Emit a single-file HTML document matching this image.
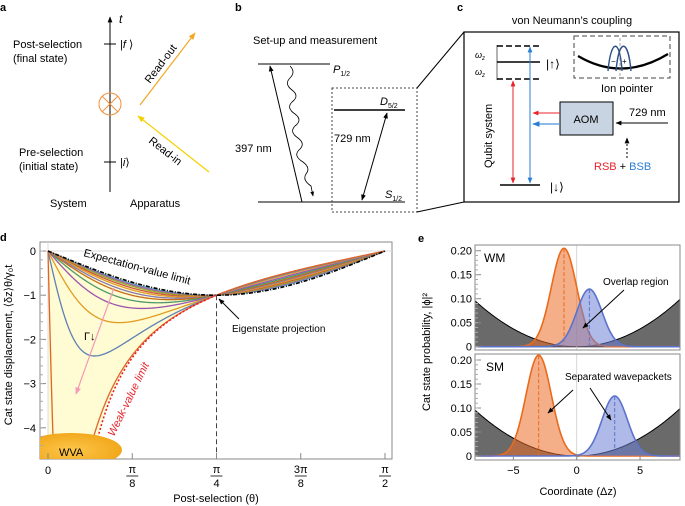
<!DOCTYPE html>
<html><head><meta charset="utf-8"><style>
body{margin:0;background:#fff}
svg{display:block;font-family:"Liberation Sans",sans-serif}
text{font-family:"Liberation Sans","DejaVu Sans",sans-serif}
</style></head><body>
<svg id="fig" width="685" height="506" viewBox="0 0 685 506" xmlns="http://www.w3.org/2000/svg">
<defs>
<marker id="ah" viewBox="0 0 10 10" refX="9" refY="5" markerWidth="6" markerHeight="6" orient="auto-start-reverse"><path d="M0,1 L10,5 L0,9 z" fill="context-stroke"/></marker>
<marker id="ahk" viewBox="0 0 10 10" refX="9" refY="5" markerWidth="6" markerHeight="6" orient="auto-start-reverse"><path d="M0,1 L10,5 L0,9 z" fill="#000"/></marker>
<marker id="ahr" viewBox="0 0 10 10" refX="9" refY="5" markerWidth="6" markerHeight="6" orient="auto-start-reverse"><path d="M0,1 L10,5 L0,9 z" fill="#e8232a"/></marker>
<marker id="ahb" viewBox="0 0 10 10" refX="9" refY="5" markerWidth="6" markerHeight="6" orient="auto-start-reverse"><path d="M0,1 L10,5 L0,9 z" fill="#2a7fd0"/></marker>
<marker id="aho" viewBox="0 0 10 10" refX="9" refY="5" markerWidth="6" markerHeight="6" orient="auto"><path d="M0,1 L10,5 L0,9 z" fill="#f5a623"/></marker>
<marker id="ahy" viewBox="0 0 10 10" refX="9" refY="5" markerWidth="6" markerHeight="6" orient="auto"><path d="M0,1 L10,5 L0,9 z" fill="#f5d000"/></marker>
<marker id="ahp" viewBox="0 0 10 10" refX="9" refY="5" markerWidth="6" markerHeight="6" orient="auto"><path d="M0,1 L10,5 L0,9 z" fill="#f59ab8"/></marker>
<clipPath id="clipd"><rect x="40" y="242" width="352" height="217"/></clipPath>
<clipPath id="clipe1"><rect x="475" y="245" width="205" height="105"/></clipPath>
<clipPath id="clipe2"><rect x="475" y="354" width="205" height="106"/></clipPath>
<radialGradient id="wvag"><stop offset="0" stop-color="#fcc64a"/><stop offset="1" stop-color="#f2a81c"/></radialGradient>
</defs>

<!-- Panel a -->
<g>
<text x="0" y="11" font-size="11" font-weight="bold">a</text>
<line x1="110" y1="192" x2="110" y2="17" stroke="#000" stroke-width="1" marker-end="url(#ahk)"/>
<text x="119" y="23" font-size="12" font-style="italic">t</text>
<line x1="104" y1="44" x2="116" y2="44" stroke="#000"/>
<line x1="104" y1="162" x2="116" y2="162" stroke="#000"/>
<text x="120" y="48" font-size="11">|<tspan font-style="italic">f</tspan> ⟩</text>
<text x="120" y="166" font-size="11">|<tspan font-style="italic">i</tspan>⟩</text>
<text x="13" y="48" font-size="11">Post-selection</text>
<text x="13" y="62" font-size="11">(final state)</text>
<text x="19" y="156" font-size="11">Pre-selection</text>
<text x="19" y="170" font-size="11">(initial state)</text>
<text x="50" y="207" font-size="11">System</text>
<text x="130" y="207" font-size="11">Apparatus</text>
<g stroke="#f0913a" fill="none" stroke-width="1">
<circle cx="110" cy="104" r="11"/><line x1="102" y1="96" x2="118" y2="112"/><line x1="118" y1="96" x2="102" y2="112"/></g>
<line x1="140" y1="105" x2="195" y2="33" stroke="#f5a623" stroke-width="1.2" marker-end="url(#aho)"/>
<line x1="209" y1="172" x2="138" y2="116" stroke="#f5d000" stroke-width="1.2" marker-end="url(#ahy)"/>
<text transform="translate(150,84) rotate(-53)" font-size="11">Read-out</text>
<text transform="translate(148,142) rotate(38)" font-size="11">Read-in</text>
</g>

<!-- Panel b -->
<g>
<text x="235" y="11" font-size="11" font-weight="bold">b</text>
<text x="253" y="44" font-size="11">Set-up and measurement</text>
<line x1="258" y1="64" x2="330" y2="64" stroke="#000"/>
<text x="333" y="73" font-size="11" font-style="italic">P<tspan font-size="7" dy="3" font-style="normal">1/2</tspan></text>
<line x1="258" y1="202" x2="405" y2="202" stroke="#000"/>
<text x="385" y="198" font-size="11" font-style="italic">S<tspan font-size="7" dy="3" font-style="normal">1/2</tspan></text>
<line x1="334" y1="110" x2="405" y2="110" stroke="#000" stroke-width="1.6"/>
<text x="380" y="105" font-size="11" font-style="italic">D<tspan font-size="7" dy="3" font-style="normal">5/2</tspan></text>
<rect x="332" y="88" width="85" height="124" fill="none" stroke="#444" stroke-dasharray="2,2"/>
<line x1="302" y1="202" x2="270" y2="66" stroke="#000" marker-end="url(#ahk)"/>
<text x="235" y="152" font-size="11">397 nm</text>
<path d="M290,66 q6,6 0,12 q-6,6 2,12 q8,6 0,12 q-6,6 3,12 q8,6 0,12 q-6,6 3,12 q8,6 1,12 q-6,6 4,12 q8,6 3,12 q-4,6 5,12 l2,10" fill="none" stroke="#000" stroke-width="0.8" marker-end="url(#ahk)"/>
<line x1="362" y1="200" x2="387" y2="113" stroke="#000" marker-start="url(#ahk)" marker-end="url(#ahk)"/>
<text x="334" y="142" font-size="11">729 nm</text>
<line x1="417" y1="88" x2="464" y2="32" stroke="#000"/>
<line x1="417" y1="212" x2="464" y2="202" stroke="#000"/>
</g>

<!-- Panel c -->
<g>
<text x="457" y="11" font-size="11" font-weight="bold">c</text>
<text x="572" y="24" font-size="11" text-anchor="middle">von Neumann’s coupling</text>
<rect x="464" y="32" width="215" height="170" fill="none" stroke="#000" stroke-width="1.2"/>
<line x1="497" y1="46" x2="540" y2="46" stroke="#000" stroke-width="1.4" stroke-dasharray="6,3"/>
<line x1="497" y1="62" x2="540" y2="62" stroke="#000" stroke-width="1.6"/>
<line x1="497" y1="79" x2="540" y2="79" stroke="#000" stroke-width="1.4" stroke-dasharray="6,3"/>
<line x1="497" y1="45" x2="497" y2="80" stroke="#000" stroke-width="0.6"/>
<text x="475" y="58" font-size="9" font-style="italic" font-family="Liberation Serif">ω<tspan font-size="6" dy="2">z</tspan></text>
<text x="475" y="75" font-size="9" font-style="italic" font-family="Liberation Serif">ω<tspan font-size="6" dy="2">z</tspan></text>
<text x="546" y="68" font-size="12">|↑⟩</text>
<line x1="500" y1="185" x2="540" y2="185" stroke="#000" stroke-width="1.6"/>
<text x="550" y="191" font-size="12">|↓⟩</text>
<line x1="513" y1="81" x2="513" y2="183" stroke="#e8232a" stroke-width="1" marker-start="url(#ahr)" marker-end="url(#ahr)"/>
<line x1="530" y1="47" x2="530" y2="183" stroke="#2a7fd0" stroke-width="1" marker-start="url(#ahb)" marker-end="url(#ahb)"/>
<text transform="translate(492,168) rotate(-90)" font-size="11">Qubit system</text>
<rect x="574" y="36" width="96" height="42" fill="none" stroke="#444" stroke-dasharray="5,3"/>
<path d="M578,56 Q622,82 668,54" fill="none" stroke="#000" stroke-width="2.2"/>
<path d="M608,71 C611,38 620,38 622,71 M616,71 C619,38 628,38 631,71" fill="none" stroke="#2c4f86" stroke-width="1.4"/>
<line x1="620" y1="38" x2="620" y2="76" stroke="#666" stroke-dasharray="3,2" stroke-width="0.6"/>
<text x="611" y="64" font-size="8">−</text>
<text x="622" y="64" font-size="8">+</text>
<text x="627" y="92" font-size="11" text-anchor="middle">Ion pointer</text>
<rect x="560" y="102" width="53" height="33" fill="#c9d4e2" stroke="#000"/>
<text x="586" y="123" font-size="11" text-anchor="middle">AOM</text>
<line x1="560" y1="113" x2="533" y2="113" stroke="#e8232a" marker-end="url(#ahr)"/>
<line x1="560" y1="124" x2="533" y2="124" stroke="#4a90d9" stroke-width="1.2" marker-end="url(#ahb)"/>
<line x1="668" y1="123" x2="616" y2="123" stroke="#000" marker-end="url(#ahk)"/>
<text x="629" y="116" font-size="11">729 nm</text>
<line x1="627" y1="158" x2="627" y2="138" stroke="#000" stroke-dasharray="2,2" marker-end="url(#ahk)"/>
<text x="594" y="170" font-size="11"><tspan fill="#e8232a">RSB</tspan> + <tspan fill="#2a7fd0">BSB</tspan></text>
</g>

<!-- Panel d -->
<g id="pd">
<text x="0" y="241" font-size="11" font-weight="bold">d</text>
</g>
<!-- Panel e -->
<g id="pe">
<text x="418" y="242" font-size="11" font-weight="bold">e</text>
</g>
</svg>
<script>
// ---------- Panel d data ----------
const dDecoherence = [0.99, 0.907, 0.787, 0.639, 0.52, 0.417, 0.35, 0.28, 0.22, 0.16, 0.11, 0.06];
const dColors = ["#e0642a","#5e81b5","#e19c24","#9b55b0","#4f9a6a","#c56e1a","#8778b3","#e19c24","#d3553b","#8fb032","#a5609d","#5d9ec7"];
const dYTicks = [0, -1, -2, -3, -4];
const dXTicks = [0, 1, 2, 3, 4];           // multiples of pi/8
const dXTickNum = ["", "π", "π", "3π", "π"];
const dXTickDen = ["", "8", "4", "8", "2"];
// ---------- Panel e data ----------
const eCentersWM = [-1, 1];
const ePeaksWM = [0.205, 0.12];
const eCentersSM = [-3, 3];
const ePeaksSM = [0.21, 0.125];
const eWidth = 1.0;
const ePotentialEdge = 0.095;
const eYTicks = [0, 0.05, 0.10, 0.15, 0.20];
const eYTickLabels = ["0", "0.05", "0.10", "0.15", "0.20"];
const eXTicks = [-5, 0, 5];

const NS = "http://www.w3.org/2000/svg";
function mk(tag, attrs, parent){const e=document.createElementNS(NS,tag);for(const k in attrs)e.setAttribute(k,attrs[k]);parent.appendChild(e);return e;}

// ---- d axes ----
const pd = document.getElementById('pd');
const dx0=48, dx1=385, dy0=251, dyUnit=44.2;
const X = t => dx0 + (t/(Math.PI/2))*(dx1-dx0);
const Y = v => dy0 - v*dyUnit;
function curve(k, t){return -Math.sin(2*t)/(1-k*Math.cos(2*t));}
const N=300;

let frame = mk('rect',{x:40,y:242,width:352,height:217,fill:'none',stroke:'#888','stroke-width':1},pd);



const gc = mk('g',{'clip-path':'url(#clipd)'},pd);



// fill region between limits
let fp = `M${X(0)},${Y(0)} `;
for(let i=0;i<=N;i++){const t=(Math.PI/4)*i/N;fp+=`L${X(t).toFixed(2)},${Y(curve(0,t)).toFixed(2)} `;}
for(let i=N;i>=1;i--){const t=(Math.PI/4)*i/N;let v=-1/Math.tan(t);if(v<-6)v=-6;fp+=`L${X(t).toFixed(2)},${Y(v).toFixed(2)} `;}
fp+=`L${X(0)},${Y(-6)} Z`;
const fill = mk('path',{d:fp,fill:'#fffbd2',stroke:'none'},gc);



let gl = mk('line',{x1:X(0),y1:242,x2:X(0),y2:459,stroke:'#ddd','stroke-width':1},gc);


let gh = mk('line',{x1:40,y1:Y(0),x2:392,y2:Y(0),stroke:'#ddd','stroke-width':1},gc);



// curves (draw shallow first)
for(let j=dDecoherence.length-1;j>=0;j--){
  const k=dDecoherence[j];let p='';
  for(let i=0;i<=N;i++){const t=(Math.PI/2)*i/N;let v=curve(k,t);if(v<-6)v=-6;p+=(i?'L':'M')+X(t).toFixed(2)+','+Y(v).toFixed(2)+' ';}
  const c=mk('path',{d:p,fill:'none',stroke:dColors[j%dColors.length],'stroke-width':1.3},gc);
  
  
}
// expectation limit
let ep='';for(let i=0;i<=N;i++){const t=(Math.PI/2)*i/N;ep+=(i?'L':'M')+X(t).toFixed(2)+','+Y(curve(0,t)).toFixed(2)+' ';}
const el=mk('path',{d:ep,fill:'none',stroke:'#000','stroke-width':1.6,'stroke-dasharray':'4,1.5,1,1.5'},gc);


// weak value limit
let wp='';for(let i=6;i<=N;i++){const t=(Math.PI/4)*i/N;let v=-1/Math.tan(t);if(v<-6)v=-6;wp+=(i>6?'L':'M')+X(t).toFixed(2)+','+Y(v).toFixed(2)+' ';}
const wl=mk('path',{d:wp,fill:'none',stroke:'#e8232a','stroke-width':1.6,'stroke-dasharray':'2,2'},gc);


// eigenstate dashed
const dl=mk('line',{x1:X(Math.PI/4),y1:Y(-1),x2:X(Math.PI/4),y2:459,stroke:'#444','stroke-dasharray':'5,3','stroke-width':1},gc);


// WVA ellipse
const wva=mk('ellipse',{cx:71,cy:450,rx:51,ry:17,fill:'url(#wvag)'},gc);



// y ticks
for(let i=0;i<dYTicks.length;i++){
  const v=dYTicks[i];
  const t=mk('line',{x1:40,y1:Y(v),x2:46,y2:Y(v),stroke:'#888'},pd);
  
  
  const l=mk('text',{x:36,y:Y(v)+4,'font-size':11,'text-anchor':'end'},pd);
  l.textContent = v===0?'0':'−'+Math.abs(v);
  
  
}
for(let v=0;v>=-4.6;v-=0.2){
  const t=mk('line',{x1:40,y1:Y(v),x2:43,y2:Y(v),stroke:'#aaa'},pd);
  
  
}
// x ticks
for(let i=0;i<dXTicks.length;i++){
  const xx=X(dXTicks[i]*Math.PI/8);
  const t=mk('line',{x1:xx,y1:459,x2:xx,y2:453,stroke:'#888'},pd);
  
  
  if(dXTicks[i]===0){
    const l=mk('text',{x:xx,y:474,'font-size':11,'text-anchor':'middle'},pd);l.textContent='0';
    
    
  } else {
    const n=mk('text',{x:xx,y:473,'font-size':11,'text-anchor':'middle','font-family':'Liberation Serif'},pd);n.textContent=dXTickNum[i];
    
    
    const b=mk('line',{x1:xx-6,y1:476,x2:xx+6,y2:476,stroke:'#000','stroke-width':0.8},pd);
    
    
    const d=mk('text',{x:xx,y:487,'font-size':11,'text-anchor':'middle'},pd);d.textContent=dXTickDen[i];
    
    
  }
}
// labels d
function txt(parent,attrs,s,name){const t=mk('text',attrs,parent);t.textContent=s;return t;}
txt(pd,{x:216,y:502,'font-size':11,'text-anchor':'middle'},'Post-selection (θ)','x-axis-title-d');
txt(pd,{transform:'translate(12,345) rotate(-90)','font-size':11,'text-anchor':'middle'},'Cat state displacement, ⟨δz⟩θ/γ₀t','y-axis-title-d');
txt(pd,{transform:'translate(83,256) rotate(15)','font-size':11},'Expectation-value limit','expectation-limit-label');
txt(pd,{transform:'translate(114,437) rotate(-64)','font-size':11,fill:'#e8232a','font-style':'italic'},'Weak-value limit','weak-value-limit-label');
txt(pd,{x:232,y:332,'font-size':10},'Eigenstate projection','eigenstate-label');
txt(pd,{x:59,y:456,'font-size':11},'WVA','wva-label');
txt(pd,{x:84,y:340,'font-size':11,'font-family':'Liberation Serif'},'Γ↓','gamma-label');
let a1=mk('line',{x1:239,y1:319,x2:219,y2:299,stroke:'#000','marker-end':'url(#ahk)'},pd);


let a2=mk('line',{x1:114,y1:288,x2:76,y2:394,stroke:'#f59ab8','stroke-width':1.2,'marker-end':'url(#ahp)'},pd);



// ---- Panel e ----
const pe=document.getElementById('pe');
const ex0=576.7, exUnit=12.67;
const EX=v=>ex0+v*exUnit;
function gauss(x,c,a){return a*Math.exp(-(x-c)*(x-c)/(2*eWidth*eWidth));}
function panel(top,bottom,zeroY,centers,peaks,clip,tag,label){
  const EY=v=>zeroY - v*480;
  const g=mk('g',{'clip-path':`url(#${clip})`},pe);
  
  
  // potential
  let pp=`M${EX(-8.5)},${EY(0)} `;
  for(let i=0;i<=200;i++){const x=-8.5+17*i/200;pp+=`L${EX(x).toFixed(2)},${EY(ePotentialEdge*(x/8)*(x/8)).toFixed(2)} `;}
  pp+=`L${EX(8.5)},${EY(0)} Z`;
  const pot=mk('path',{d:pp,fill:'#6a6a6a',stroke:'#000','stroke-width':1},g);
  
  
  const zl=mk('line',{x1:EX(0),y1:top,x2:EX(0),y2:bottom,stroke:'#ccc','stroke-width':0.8},g);
  
  
  const fills=['rgba(235,110,40,0.55)','rgba(110,130,215,0.55)'];
  const strokes=['#ea6a1c','#5b73cc'];
  for(let j=0;j<centers.length;j++){
    let p=`M${EX(-8.5)},${EY(0)} `;
    for(let i=0;i<=240;i++){const x=-8.5+17*i/240;p+=`L${EX(x).toFixed(2)},${EY(gauss(x,centers[j],peaks[j])).toFixed(2)} `;}
    const f=mk('path',{d:p+`L${EX(8.5)},${EY(0)} Z`,fill:fills[j],stroke:'none'},g);
    
    
    const s=mk('path',{d:p,fill:'none',stroke:strokes[j],'stroke-width':1.6},g);
    
    
    const dsh=mk('line',{x1:EX(centers[j]),y1:EY(peaks[j]),x2:EX(centers[j]),y2:EY(0),stroke:strokes[j],'stroke-dasharray':'4,2','stroke-width':1},g);
    
    
  }
  const fr=mk('rect',{x:475,y:top,width:205,height:bottom-top,fill:'none',stroke:'#888'},pe);
  
  
  for(let i=0;i<eYTicks.length;i++){
    const tk=mk('line',{x1:475,y1:EY(eYTicks[i]),x2:481,y2:EY(eYTicks[i]),stroke:'#888'},pe);
    
    
    txt(pe,{x:472,y:EY(eYTicks[i])+4,'font-size':11,'text-anchor':'end'},eYTickLabels[i],'y-tick-label-'+tag);
  }
  for(let v=0;v<=0.21;v+=0.01){
    const tk=mk('line',{x1:475,y1:EY(v),x2:478,y2:EY(v),stroke:'#aaa'},pe);
    
    
  }
  txt(pe,{x:top<300?484:486,y:top+17,'font-size':12},label,'panel-tag-'+tag);
}
panel(245,350,346.7,eCentersWM,ePeaksWM,'clipe1','wm','WM');
panel(354,460,456,eCentersSM,ePeaksSM,'clipe2','sm','SM');
for(let i=0;i<eXTicks.length;i++){
  const tk=mk('line',{x1:EX(eXTicks[i]),y1:460,x2:EX(eXTicks[i]),y2:455,stroke:'#888'},pe);
  
  
  txt(pe,{x:EX(eXTicks[i]),y:474,'font-size':11,'text-anchor':'middle'},eXTicks[i]<0?'−'+Math.abs(eXTicks[i]):String(eXTicks[i]),'x-tick-label-e');
}
txt(pe,{x:578,y:495,'font-size':11,'text-anchor':'middle'},'Coordinate (Δz)','x-axis-title-e');
txt(pe,{transform:'translate(430,352) rotate(-90)','font-size':11,'text-anchor':'middle'},'Cat state probability, |ϕ|²','y-axis-title-e');
txt(pe,{x:603,y:285,'font-size':10},'Overlap region','overlap-label');
txt(pe,{x:565,y:380,'font-size':10},'Separated wavepackets','separated-label');
let e1=mk('line',{x1:624,y1:290,x2:583,y2:328,stroke:'#000','marker-end':'url(#ahk)'},pe);


let e2=mk('line',{x1:573,y1:390,x2:548,y2:413,stroke:'#000','marker-end':'url(#ahk)'},pe);


let e3=mk('line',{x1:590,y1:388,x2:611,y2:420,stroke:'#000','marker-end':'url(#ahk)'},pe);


</script>
</body></html>
